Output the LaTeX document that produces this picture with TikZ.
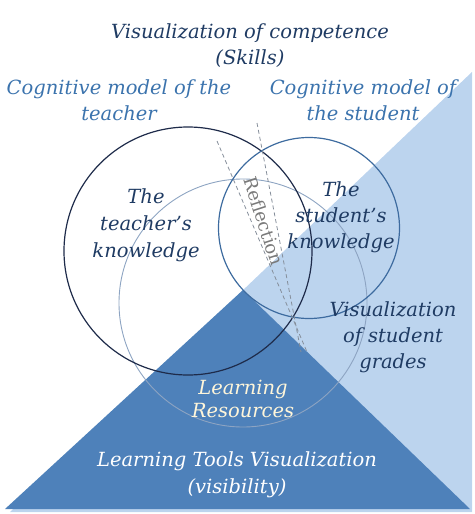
\documentclass[tikz,border=0pt]{standalone}
\usepackage{fontspec}
\setmainfont{DejaVu Serif}
\definecolor{lighttri}{HTML}{BCD4EE}
\definecolor{darktri}{HTML}{4E81BA}
\definecolor{navytxt}{HTML}{1F3B63}
\definecolor{cogblue}{HTML}{3B73AD}
\definecolor{teachcirc}{HTML}{1E2B4A}
\definecolor{studcirc}{HTML}{3D6B9F}
\definecolor{midcirc}{HTML}{8DA4C2}
\definecolor{dashgray}{HTML}{858E9A}
\definecolor{refgray}{HTML}{7A7A7A}
\definecolor{creamtxt}{HTML}{FFF6DA}
\begin{document}
\begin{tikzpicture}[x=1pt,y=-1pt,
  lbl/.style={align=center,inner sep=0pt,font=\fontsize{19.5}{26}\selectfont\itshape},
  ring/.style={circle,draw,inner sep=0pt,minimum size=#1},
  refline/.style={draw=dashgray,dashed,dash pattern=on 4pt off 3pt,line width=0.8pt}]
\useasboundingbox (0,0) rectangle (474,514);
% triangles
\fill[lighttri] (472,72) -- (472,512) -- (10,512) -- cycle;
\fill[darktri] (5,509) -- (243,290) -- (470,509) -- cycle;
% circles
\node[ring=248pt,draw=midcirc,line width=0.9pt] (mid) at (243,303) {};
\node[ring=248pt,draw=teachcirc,line width=1.2pt] (teach) at (188,251) {};
\node[ring=181pt,draw=studcirc,line width=1.2pt] (stud) at (309,228) {};
% reflection lines
\coordinate (ra1) at (217,141);
\coordinate (ra2) at (307,352);
\coordinate (rb1) at (257,123);
\coordinate (rb2) at (301,352);
\draw[refline] (ra1) -- (ra2);
\draw[refline] (rb1) -- (rb2);
\node[inner sep=0pt,text=refgray,font=\fontsize{18}{20}\selectfont,rotate=-72] (refl) at (264,221) {Reflection};
% texts
\node[lbl,text=navytxt] (title) at (250,45.5) {Visualization of competence\\(Skills)};
\node[lbl,text=cogblue] (cogt) at (119,100.5) {Cognitive model of the\\teacher};
\node[lbl,text=cogblue] (cogs) at (363,100.5) {Cognitive model of\\the student};
\node[lbl,text=navytxt,font=\fontsize{19.5}{27}\selectfont\itshape] (tk) at (146,225) {The\\teacher's\\knowledge};
\node[lbl,text=navytxt] (sk) at (341,217) {The\\student's\\knowledge};
\node[lbl,text=navytxt] (vsg) at (393,337) {Visualization\\of student\\grades};
\node[lbl,text=creamtxt,font=\fontsize{19.5}{23}\selectfont\itshape] (lr) at (243,398.5) {Learning\\Resources};
\node[lbl,text=white,font=\fontsize{19.5}{27}\selectfont\itshape] (ltv) at (237,474.5) {Learning Tools Visualization\\(visibility)};
\end{tikzpicture}
\end{document}
